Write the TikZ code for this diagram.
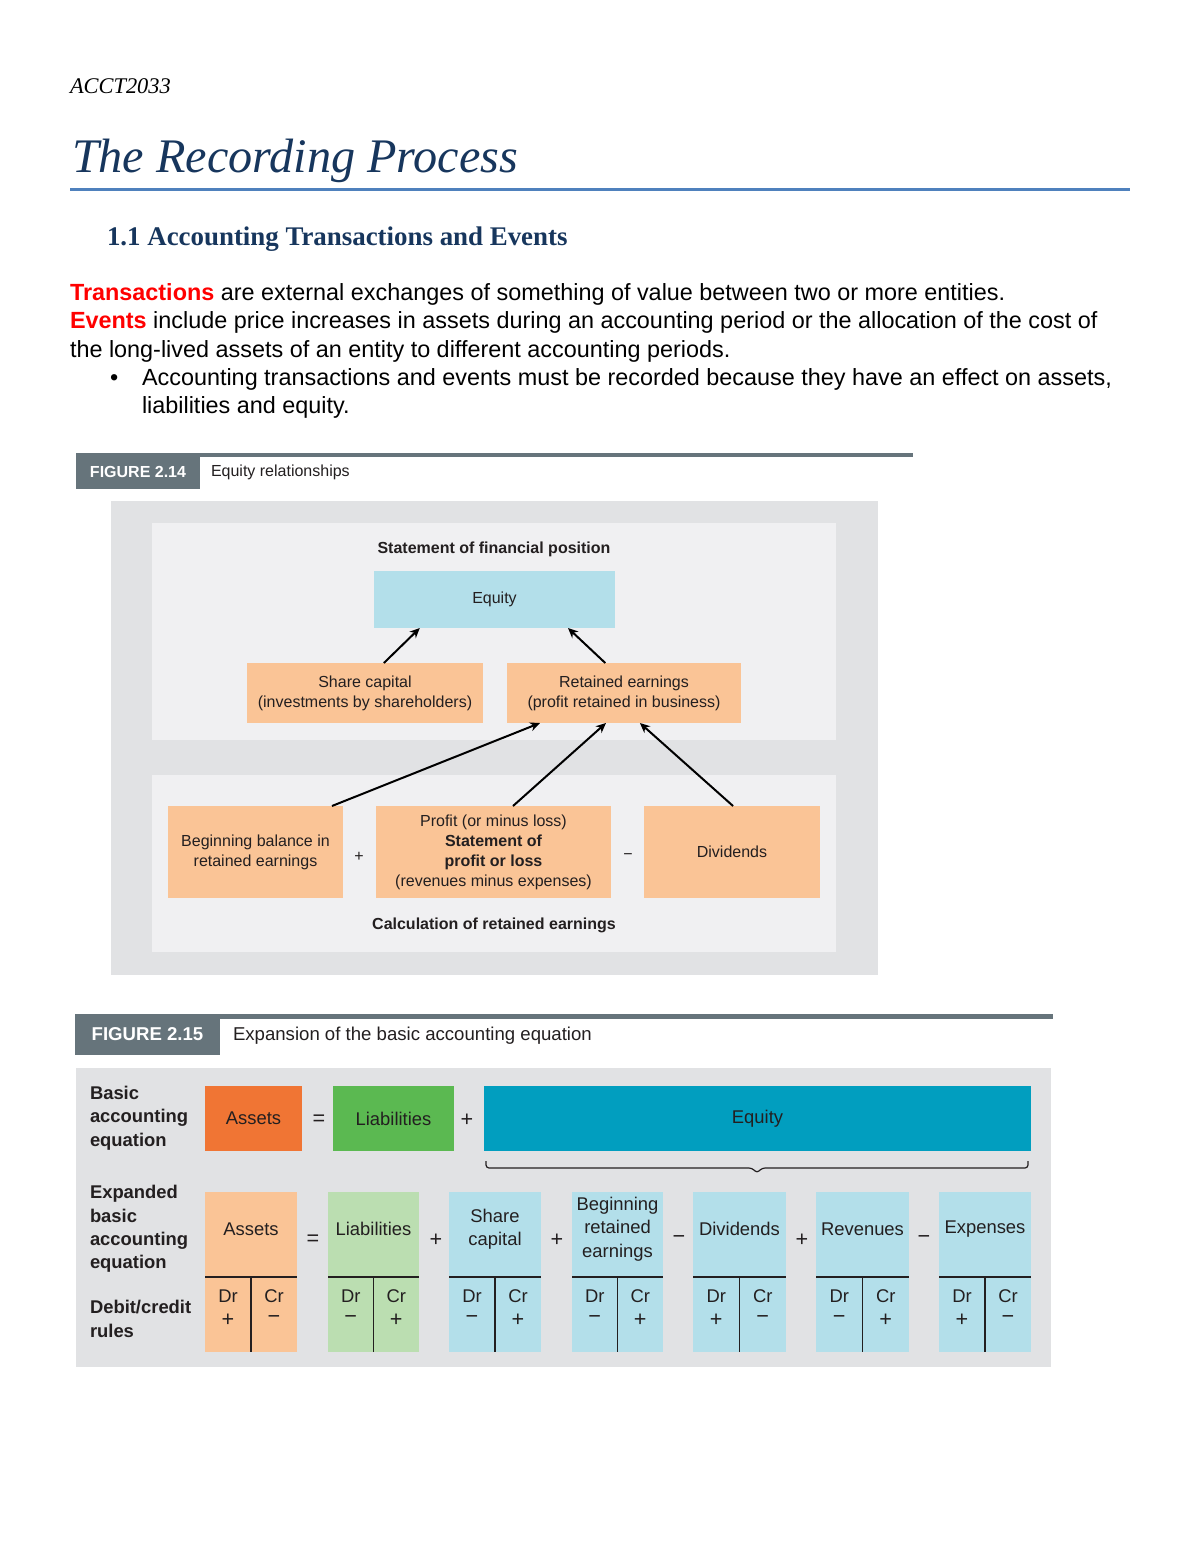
\documentclass[tikz,border=0pt]{standalone}
\usepackage{fontspec}
\setmainfont{Liberation Sans}
\newfontfamily\seriffam{Liberation Serif}
\usetikzlibrary{arrows.meta,calc}
\definecolor{titleblue}{HTML}{17365D}
\definecolor{rulblue}{HTML}{4F81BD}
\definecolor{slate}{HTML}{66747B}
\definecolor{panel}{HTML}{E1E2E4}
\definecolor{innerp}{HTML}{F0F0F2}
\definecolor{peach}{HTML}{FAC496}
\definecolor{lblue}{HTML}{B3DFEA}
\definecolor{lgreen}{HTML}{BBDEB1}
\definecolor{orangeA}{HTML}{F07534}
\definecolor{greenA}{HTML}{5BB951}
\definecolor{tealA}{HTML}{019EBF}
\definecolor{txtred}{HTML}{FF0000}
\definecolor{figtext}{HTML}{231F20}
\newcommand\bx[7]{\node[#6, anchor=north west, minimum width={(#4-#2)*0.5pt}, minimum height={(#5-#3)*0.5pt}] (#1) at (#2,#3) {#7};}
\newcommand\ecol[7]{%
  \fill[#4] (#2,1192) rectangle (#3,1352);
  \node[elbl] (#1) at ({(#2+#3)/2},1229) {#5};
  \draw[divline] (#2,1277) -- (#3,1277);
  \draw[divline] ({(#2+#3)/2},1277) -- ({(#2+#3)/2},1352);
  \node[elbl] (#1dr) at ({(3*#2+#3)/4},1296) {Dr};
  \node[elbl] (#1cr) at ({(#2+3*#3)/4},1296) {Cr};
  \node[opsign] (#1ds) at ({(3*#2+#3)/4},1320) {#6};
  \node[opsign] (#1cs) at ({(#2+3*#3)/4},1320) {#7};
}
\begin{document}
\begin{tikzpicture}[x=0.5pt,y=-0.5pt,
  every node/.style={inner sep=0pt, outer sep=0pt},
  body/.style={anchor=base west, font=\fontsize{11.7}{14}\selectfont},
  f14box/.style={fill=peach, align=center, text=figtext, font=\fontsize{8}{10}\selectfont},
  f14txt/.style={text=figtext, font=\fontsize{8}{10}\selectfont},
  f14bold/.style={text=figtext, font=\bfseries\fontsize{8}{10}\selectfont},
  arr/.style={line width=1pt, -{Stealth[length=5pt,width=4.5pt]}},
  figlab/.style={fill=slate, text=white, anchor=north west, font=\bfseries\fontsize{8}{10}\selectfont},
  rowlab/.style={anchor=west, align=left, text=figtext, font=\bfseries\fontsize{9.2}{11.7}\selectfont},
  elbl/.style={align=center, text=figtext, font=\fontsize{9.2}{11.7}\selectfont},
  opsign/.style={text=figtext, font=\fontsize{10.8}{12}\selectfont},
  bbox/.style={align=center, text=figtext, font=\fontsize{9.2}{11.7}\selectfont},
  divline/.style={line width=0.8pt, color=figtext}]
\fill[white] (0,0) rectangle (1200,1553);
\useasboundingbox (0,0) rectangle (1200,1553);
% header
\node[anchor=base west, font=\seriffam\itshape\fontsize{11.2}{13}\selectfont] (course) at (70,93) {ACCT2033};
\node[anchor=base west, text=titleblue, font=\seriffam\itshape\fontsize{24.1}{28}\selectfont] (title) at (72,172) {The Recording Process};
\draw[rulblue, line width=1.5pt] (70,189) -- (1130,189);
\node[anchor=base west, text=titleblue, font=\seriffam\bfseries\fontsize{13.45}{16}\selectfont] (sec) at (107,245) {1.1 Accounting Transactions and Events};
% body
\node[body] (l1) at (70,300) {\textcolor{txtred}{\textbf{Transactions}} are external exchanges of something of value between two or more entities.};
\node[body] (l2) at (70,328) {\textcolor{txtred}{\textbf{Events}} include price increases in assets during an accounting period or the allocation of the cost of};
\node[body] (l3) at (70,357) {the long-lived assets of an entity to different accounting periods.};
\node[body] (bul) at (110,385) {•};
\node[body] (l4) at (142,385) {Accounting transactions and events must be recorded because they have an effect on assets,};
\node[body] (l5) at (142,413) {liabilities and equity.};
% figure 2.14
\draw[slate, line width=2pt] (76,455) -- (913,455);
\node[figlab, minimum width=62pt, minimum height=17pt] (f14) at (76,455) {FIGURE 2.14};
\node[f14txt, anchor=west] (f14t) at (211,472) {Equity relationships};
\fill[panel] (111,501) rectangle (878,975);
\fill[innerp] (152,523) rectangle (836,740);
\fill[innerp] (152,775) rectangle (836,952);
\node[f14bold] (sfp) at (494,549) {Statement of financial position};
\bx{eq}{374}{571}{615}{628}{f14box,fill=lblue}{Equity}
\bx{sc}{247}{663}{483}{723}{f14box}{Share capital\\(investments by shareholders)}
\bx{re}{507}{663}{741}{723}{f14box}{Retained earnings\\(profit retained in business)}
\bx{bb}{168}{806}{343}{898}{f14box}{Beginning balance in\\retained earnings}
\bx{pr}{376}{806}{611}{898}{f14box}{Profit (or minus loss)\\\textbf{Statement of}\\\textbf{profit or loss}\\(revenues minus expenses)}
\bx{dv}{644}{806}{820}{898}{f14box}{Dividends}
\node[f14txt] (p14) at (359,857) {+};
\node[f14txt] (m14) at (628,857) {−};
\node[f14bold] (cre) at (494,925) {Calculation of retained earnings};
\draw[arr] ($(sc.north west)!0.58!(sc.north east)$) -- ($(eq.south west)!0.19!(eq.south east)$);
\draw[arr] ($(re.north west)!0.42!(re.north east)$) -- ($(eq.south west)!0.805!(eq.south east)$);
\draw[arr] ($(bb.north west)!0.937!(bb.north east)$) -- ($(re.south west)!0.141!(re.south east)$);
\draw[arr] ($(pr.north west)!0.583!(pr.north east)$) -- ($(re.south west)!0.423!(re.south east)$);
\draw[arr] ($(dv.north west)!0.506!(dv.north east)$) -- ($(re.south west)!0.568!(re.south east)$);
% figure 2.15
\draw[slate, line width=2.5pt] (75,1016) -- (1053,1016);
\node[figlab, minimum width=72.5pt, minimum height=20.5pt, font=\bfseries\fontsize{9.3}{11}\selectfont] (f15) at (75,1014) {FIGURE 2.15};
\node[anchor=west, text=figtext, font=\fontsize{9.3}{11}\selectfont] (f15t) at (233,1036) {Expansion of the basic accounting equation};
\fill[panel] (76,1068) rectangle (1051,1367);
\node[rowlab] (rbasic) at (90,1118) {Basic\\accounting\\equation};
\node[rowlab] (rexp) at (90,1229) {Expanded\\basic\\accounting\\equation};
\node[rowlab] (rdc) at (90,1319) {Debit/credit\\rules};
\bx{bA}{205}{1086}{302}{1151}{bbox,fill=orangeA}{Assets}
\node[opsign] (beq) at (319,1120) {=};
\bx{bL}{333}{1086}{454}{1151}{bbox,fill=greenA}{Liabilities}
\node[opsign] (bpl) at (467,1120) {+};
\bx{bE}{484}{1086}{1031}{1151}{bbox,fill=tealA}{Equity}
\draw[figtext, line width=0.6pt, rounded corners=1.5pt] (486,1161) |- (752,1168) -- (757,1173) -- (762,1168) -| (1028,1161);
\ecol{eA}{205}{297}{peach}{Assets}{+}{−}
\ecol{eL}{328}{419}{lgreen}{Liabilities}{−}{+}
\ecol{eS}{449}{541}{lblue}{Share\\capital}{−}{+}
\ecol{eB}{572}{663}{lblue}{Beginning\\retained\\earnings}{−}{+}
\ecol{eD}{693}{786}{lblue}{Dividends}{+}{−}
\ecol{eR}{816}{909}{lblue}{Revenues}{−}{+}
\ecol{eX}{939}{1031}{lblue}{Expenses}{+}{−}
\node[opsign] (o1) at (313,1240) {=};
\node[opsign] (o2) at (436,1240) {+};
\node[opsign] (o3) at (557,1240) {+};
\node[opsign] (o4) at (679,1240) {−};
\node[opsign] (o5) at (802,1240) {+};
\node[opsign] (o6) at (924,1240) {−};
\end{tikzpicture}
\end{document}
